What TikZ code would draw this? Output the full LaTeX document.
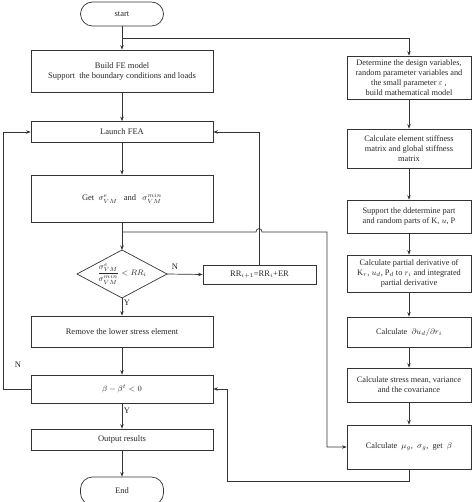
\documentclass[tikz,border=0pt]{standalone}
\usepackage{fontspec}
\setmainfont{Liberation Serif}
\usetikzlibrary{arrows.meta}
\tikzset{
  ln/.style={draw=black!80, line width=0.7pt},
  arr/.style={ln, -{Stealth[length=4.5pt,width=3.5pt]}},
  boxl/.style={ln, rectangle, minimum width=182pt, inner sep=1pt, align=center, font=\fontsize{8.5}{10}\selectfont, text=black!85},
  boxr/.style={ln, rectangle, minimum width=124pt, inner sep=1pt, align=center, font=\fontsize{8.3}{10}\selectfont, text=black!85},
  term/.style={ln, rectangle, rounded corners=12pt, minimum width=83pt, inner sep=1pt, font=\fontsize{8.5}{10}\selectfont, text=black!85},
  lbl/.style={font=\fontsize{8.5}{10}\selectfont, text=black!85, inner sep=0pt}
}
\begin{document}
\begin{tikzpicture}[x=1pt,y=-1pt]
\useasboundingbox (0,0) rectangle (474,502);
% left column
\node[term, minimum height=24pt] (start) at (122,14) {start};
\node[boxl, minimum height=42pt] (fe) at (122,71) {Build FE model\\ Support\ \ the boundary conditions and loads};
\node[boxl, minimum height=21pt] (launch) at (122,132) {Launch FEA};
\node[boxl, minimum height=47pt] (get) at (122,198.5) {Get\ \ $\sigma^{e}_{VM}$\ \ \ and\ \ \ $\sigma^{min}_{VM}$};
\draw[ln] (77,274) coordinate (diaW) -- (122,250) coordinate (diaN) -- (167,274) coordinate (diaE) -- (122,298) coordinate (diaS) -- cycle;
\node[lbl, font=\fontsize{8}{9}\selectfont] (dia) at (122,274) {$\displaystyle\frac{\sigma^{e}_{VM}}{\sigma^{min}_{VM}} < RR_i$};
\node[boxl, minimum width=113pt, minimum height=19pt] (rr) at (259.5,274.5) {RR$_{i+1}$=RR$_i$+ER};
\node[boxl, minimum height=31pt] (remove) at (122,331.5) {Remove the lower stress element};
\node[boxl, minimum height=28pt] (beta) at (122,389) {$\beta-\beta^{t}<0$};
\node[boxl, minimum height=21pt] (output) at (122,439.5) {Output results};
\node[term, minimum height=28pt] (end) at (122,491) {End};
% right column
\node[boxr, minimum height=43pt] (det) at (409,77.5) {Determine the design variables,\\ random parameter variables and\\ the small parameter $\varepsilon$ ,\\ build mathematical model};
\node[boxr, minimum height=39pt] (stiff) at (409,148.5) {Calculate element stiffness\\ matrix and global stiffness\\ matrix};
\node[boxr, minimum height=33pt] (supp) at (409,216.5) {Support the ddetermine part\\ and random parts of K, $u$, P};
\node[boxr, minimum height=37pt] (part) at (409,273.5) {Calculate partial derivative of\\ K$_r$, $u_d$, P$_d$ to $r_i$ and integrated\\ partial derivative};
\node[boxr, minimum height=30pt] (dcalc) at (409,332) {Calculate\ \ $\partial u_d/\partial r_i$};
\node[boxr, minimum height=34pt] (stress) at (409,385) {Calculate stress mean, variance\\ and the covariance};
\node[boxr, minimum height=44pt] (mu) at (409,447) {Calculate\ \ $\mu_g$,\ \ $\sigma_g$,\ \ get\ \ $\beta$};
% labels
\node[lbl] (ln1) at (175,267) {N};
\node[lbl] (ly1) at (127,303) {Y};
\node[lbl] (ln2) at (18,365) {N};
\node[lbl] (ly2) at (127,411) {Y};
% junctions
\coordinate (j1) at (122,38);
\coordinate (j2) at (122,232);
% connectors
\draw[arr] (start) -- (fe);
\draw[arr] (j1) -| (det.north);
\draw[arr] (fe) -- (launch);
\draw[arr] (launch) -- (get);
\draw[arr] (get) -- (diaN);
\draw[arr] (j2) -- (256,232) .. controls (256,227.5) and (262,227.5) .. (262,232) -- (327,232) |- (mu.west);
\draw[arr] (diaE) -- (rr.west);
\draw[arr] (rr.north) |- (launch.east);
\draw[arr] (diaS) -- (remove.north);
\draw[arr] (remove) -- (beta);
\draw[arr] (beta.west) -- (3,389) |- (launch.west);
\draw[arr] (beta) -- (output);
\draw[arr] (output) -- (end);
\draw[arr] (det) -- (stiff);
\draw[arr] (stiff) -- (supp);
\draw[arr] (supp) -- (part);
\draw[arr] (part) -- (dcalc);
\draw[arr] (dcalc) -- (stress);
\draw[arr] (stress) -- (mu);
\draw[arr] (mu.south) -- (409,481) -| (227,389) -- (beta.east);
\end{tikzpicture}
\end{document}
